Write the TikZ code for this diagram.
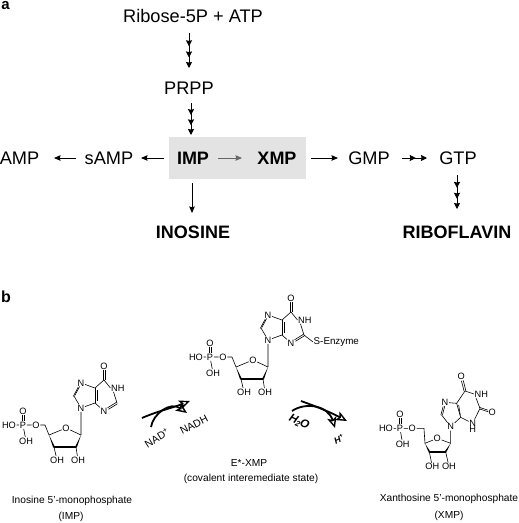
\documentclass[tikz,border=0pt]{standalone}
\usepackage{fontspec}
\setmainfont{Liberation Sans}
\usetikzlibrary{arrows.meta,decorations.markings,calc}
\newcommand\dbond[4]{%
  \draw[bond,transform canvas={shift={(#1,#2)}}] (#3) -- (#4);
  \draw[bond,transform canvas={shift={(-#1,-#2)}}] (#3) -- (#4);}
\tikzset{
  x=1pt,y=-1pt,
  big/.style={font=\fontsize{18.2}{20}\selectfont,inner sep=0pt},
  bigb/.style={font=\fontsize{18}{20}\selectfont\bfseries,inner sep=0pt},
  captext/.style={font=\fontsize{10.2}{12}\selectfont,inner sep=0pt},
  atom/.style={font=\fontsize{9.2}{10}\selectfont,inner sep=.5pt},
  cofac/.style={font=\fontsize{10.5}{11}\selectfont,inner sep=0pt},
  bond/.style={line width=.6pt},
  heavy/.style={line width=1.9pt,line cap=round},
  arr/.style={line width=.9pt,-{Stealth[length=6.5pt,width=5.5pt,inset=.8pt]}},
  multi/.style={line width=.9pt,-{Stealth[length=6pt,width=6pt,inset=.6pt]},postaction={decorate},
    decoration={markings,
      mark=at position .38 with {\arrow{Stealth[length=6pt,width=6pt,inset=.6pt]}},
      mark=at position .70 with {\arrow{Stealth[length=6pt,width=6pt,inset=.6pt]}}}},
  twostep/.style={line width=.9pt,-{Stealth[length=6pt,width=6pt,inset=.6pt]},postaction={decorate},
    decoration={markings,mark=at position .55 with {\arrow{Stealth[length=6pt,width=6pt,inset=.6pt]}}}},
  swooptip/.style={line width=1.8pt,-{Stealth[length=11pt,width=9.5pt,inset=2.5pt,fill=white,line width=1.4pt]}},
  nucleo/.pic={
    \node[atom] (-no) at (-15,-7) {O};
    \coordinate (-c1) at (0,0);
    \coordinate (-c2) at (-5,12);
    \coordinate (-c3) at (-27,12);
    \coordinate (-c4) at (-32,0);
    \coordinate (-c5) at (-36,-10);
    \node[atom] (-o5) at (-45,-10) {O};
    \node[atom] (-p) at (-58,-10) {P};
    \node[atom] (-ho) at (-72,-10) {HO};
    \node[atom] (-po) at (-58,-24) {O};
    \node[atom] (-oh) at (-55,6) {OH};
    \node[atom] (-oh3) at (-24,25) {OH};
    \node[atom] (-oh2) at (-3,25) {OH};
    \node[atom] (-n9) at (0,-27) {N};
    \coordinate (-c8) at (-7,-39);
    \node[atom] (-n7) at (0,-52) {N};
    \coordinate (-c5b) at (14,-47);
    \coordinate (-c4b) at (14,-32);
    \coordinate (-c6) at (23,-55);
    \node[atom] (-o6) at (23,-69) {O};
    \node[atom,anchor=west] (-n1) at (29.5,-47) {NH};
    \coordinate (-c2b) at (36,-32);
    \node[atom] (-n3) at (23,-24) {N};
    \draw[bond] (-c1) -- (-no) -- (-c4) -- (-c5) -- (-o5) -- (-p) -- (-ho);
    \draw[bond] (-p) -- (-oh);
    \dbond{.9}{0}{-p}{-po}
    \fill (-c4) -- ($(-c3)+(-1,0)$) -- ($(-c3)+(1,0)$) -- cycle;
    \fill (-c1) -- ($(-c2)+(-1,0)$) -- ($(-c2)+(1,0)$) -- cycle;
    \draw[heavy] (-c3) -- (-c2);
    \draw[bond] (-c3) -- (-oh3);
    \draw[bond] (-c2) -- (-oh2);
    \draw[bond] (-c1) -- (-n9) -- (-c8);
    \dbond{.75}{-.4}{-c8}{-n7}
    \draw[bond] (-n7) -- (-c5b) -- (-c6) -- (-n1.west);
    \draw[bond] (-c5b) -- (-c4b);
    \draw[bond] ($(-c5b)+(1.8,2)$) -- ($(-c4b)+(1.8,-2)$);
    \draw[bond] (-c4b) -- (-n9);
    \draw[bond] (-c4b) -- (-n3);
    \dbond{.45}{.75}{-n3}{-c2b}
    \draw[bond] (-c2b) -- ([xshift=3pt]-n1.south west);
    \dbond{.9}{0}{-c6}{-o6}
  }
}
\begin{document}
\begin{tikzpicture}
\useasboundingbox (0,0) rectangle (519,523);
\fill[white] (0,0) rectangle (519,523);
\fill[black!11] (169,137) rectangle (306,179);
\node[bigb,font=\fontsize{15}{17}\selectfont\bfseries] (la) at (5.5,5.5) {a};
\node[bigb,font=\fontsize{16}{17}\selectfont\bfseries] (lb) at (6,297) {b};
% panel a
\node[big] (rib) at (193,16) {Ribose-5P + ATP};
\node[big] (prpp) at (189,88) {PRPP};
\node[big] (amp) at (19.5,158) {AMP};
\node[big] (samp) at (109,158) {sAMP};
\node[bigb] (imp) at (193,158) {IMP};
\node[bigb] (xmp) at (277,158) {XMP};
\node[big] (gmp) at (369,158) {GMP};
\node[big] (gtp) at (458,158) {GTP};
\node[bigb] (ino) at (193,232) {INOSINE};
\node[bigb] (ribo) at (457,232) {RIBOFLAVIN};
\coordinate (m1a) at (189,33); \coordinate (m1b) at (189,68);
\coordinate (m2a) at (191,103); \coordinate (m2b) at (191,135);
\coordinate (m3a) at (457,175); \coordinate (m3b) at (457,209);
\draw[multi] (m1a) -- (m1b);
\draw[multi] (m2a) -- (m2b);
\draw[multi] (m3a) -- (m3b);
\draw[arr] (samp) ++(-33,0) -- ++(-22,0);
\draw[arr] (imp) ++(-29,0) -- ++(-23,0);
\draw[arr,draw=black!60] (imp) ++(25,0) -- ++(24,0);
\draw[arr] (xmp) ++(34,0) -- ++(27,0);
\coordinate (m4a) at (402,158); \coordinate (m4b) at (427,158);
\draw[twostep] (m4a) -- (m4b);
\draw[arr] (imp) ++(-1,25) -- (192,213);
% panel b structures
\pic (imp2) at (81,435) {nucleo};
\pic (ex) at (268,367) {nucleo};
\node[atom,anchor=west,font=\fontsize{9.8}{11}\selectfont] (senz) at (313,342) {S-Enzyme};
\draw[bond] (ex-c2b) -- (senz.west);
\begin{scope}[shift={(300,320)},x=.3333pt,y=-.3333pt]
  \node[atom] (xho) at (258,325) {HO};
  \node[atom] (xp) at (300,325) {P};
  \node[atom] (xpo) at (300,283) {O};
  \node[atom] (xoh) at (308,372) {OH};
  \node[atom] (xo5) at (337,325) {O};
  \coordinate (xc5) at (372,325);
  \node[atom] (xno) at (412,355) {O};
  \coordinate (xc4) at (375,370);
  \coordinate (xc3) at (388,395);
  \coordinate (xc2) at (437,395);
  \coordinate (xc1) at (452,370);
  \node[atom] (xoh3) at (397,440) {OH};
  \node[atom] (xoh2) at (447,440) {OH};
  \node[atom] (xn9) at (452,320) {N};
  \coordinate (xc8) at (425,285);
  \node[atom] (xn7) at (435,247) {N};
  \coordinate (xc5b) at (470,250);
  \coordinate (xc4b) at (482,292);
  \coordinate (xc6) at (495,213);
  \node[atom] (xo6) at (484,170) {O};
  \node[atom,anchor=west] (xn1) at (522,222) {NH};
  \coordinate (xc2b) at (540,265);
  \node[atom] (xo2) at (577,277) {O};
  \node[atom] (xn3) at (518,310) {N};
  \node[atom] (xh3) at (518,327) {H};
  \draw[bond] (xho) -- (xp) -- (xo5) -- (xc5) -- (xc4) -- (xno) -- (xc1) -- (xn9) -- (xc8);
  \draw[bond] (xp) -- (xoh);
  \dbond{2.7}{0}{xp}{xpo}
  \fill (xc4) -- ($(xc3)+(-3,0)$) -- ($(xc3)+(3,0)$) -- cycle;
  \fill (xc1) -- ($(xc2)+(-3,0)$) -- ($(xc2)+(3,0)$) -- cycle;
  \draw[heavy] (xc3) -- (xc2);
  \draw[bond] (xc3) -- (xoh3);
  \draw[bond] (xc2) -- (xoh2);
  \dbond{2.5}{-.8}{xc8}{xn7}
  \draw[bond] (xn7) -- (xc5b) -- (xc6) -- (xn1.west);
  \draw[bond] (xc5b) -- (xc4b);
  \draw[bond] ($(xc5b)+(6,5)$) -- ($(xc4b)+(-1,-6)$);
  \draw[bond] (xc4b) -- (xn9);
  \draw[bond] (xc4b) -- (xn3) -- (xc2b) -- ([xshift=2pt]xn1.south west);
  \dbond{2.7}{-.6}{xc6}{xo6}
  \dbond{.8}{2.6}{xc2b}{xo2}
\end{scope}
% captions
\node[captext] (c1) at (72,501) {Inosine 5'-monophosphate};
\node[captext] (c1b) at (71,517) {(IMP)};
\node[captext] (c2) at (249,463) {E*-XMP};
\node[captext] (c2b) at (251,479) {(covalent interemediate state)};
\node[captext] (c3) at (449,499) {Xanthosine 5'-monophosphate};
\node[captext] (c3b) at (449,516) {(XMP)};
% reaction arrows
\coordinate (a1) at (142,418); \coordinate (a2) at (190,401);
\coordinate (a3) at (151,427); \coordinate (a4) at (187,413);
\draw[swooptip] (a3) .. controls (153,414) and (170,401) .. (a4);
\draw[swooptip] (a1) .. controls (158,411) and (172,408) .. (a2);
\node[cofac,rotate=32] (nad) at (157,438) {NAD\textsuperscript{+}};
\node[cofac,rotate=27] (nadh) at (194,425) {NADH};
\coordinate (b1) at (301,401); \coordinate (b2) at (347,421);
\coordinate (b3) at (292,411); \coordinate (b4) at (335,428);
\draw[swooptip] (b3) .. controls (305,402) and (328,405) .. (b4);
\draw[swooptip] (b1) .. controls (315,406) and (330,412) .. (b2);
\node[cofac,rotate=-25,font=\fontsize{11.5}{12}\selectfont\itshape\bfseries] (hto) at (299,422) {H\kern-.5pt\raisebox{-2pt}{\fontsize{8}{9}\selectfont 2}\kern-.5pt O};
\node[cofac,rotate=25,font=\fontsize{9}{10}\selectfont\itshape\bfseries] (hp) at (339,439) {H\textsuperscript{+}};
\end{tikzpicture}
\end{document}
